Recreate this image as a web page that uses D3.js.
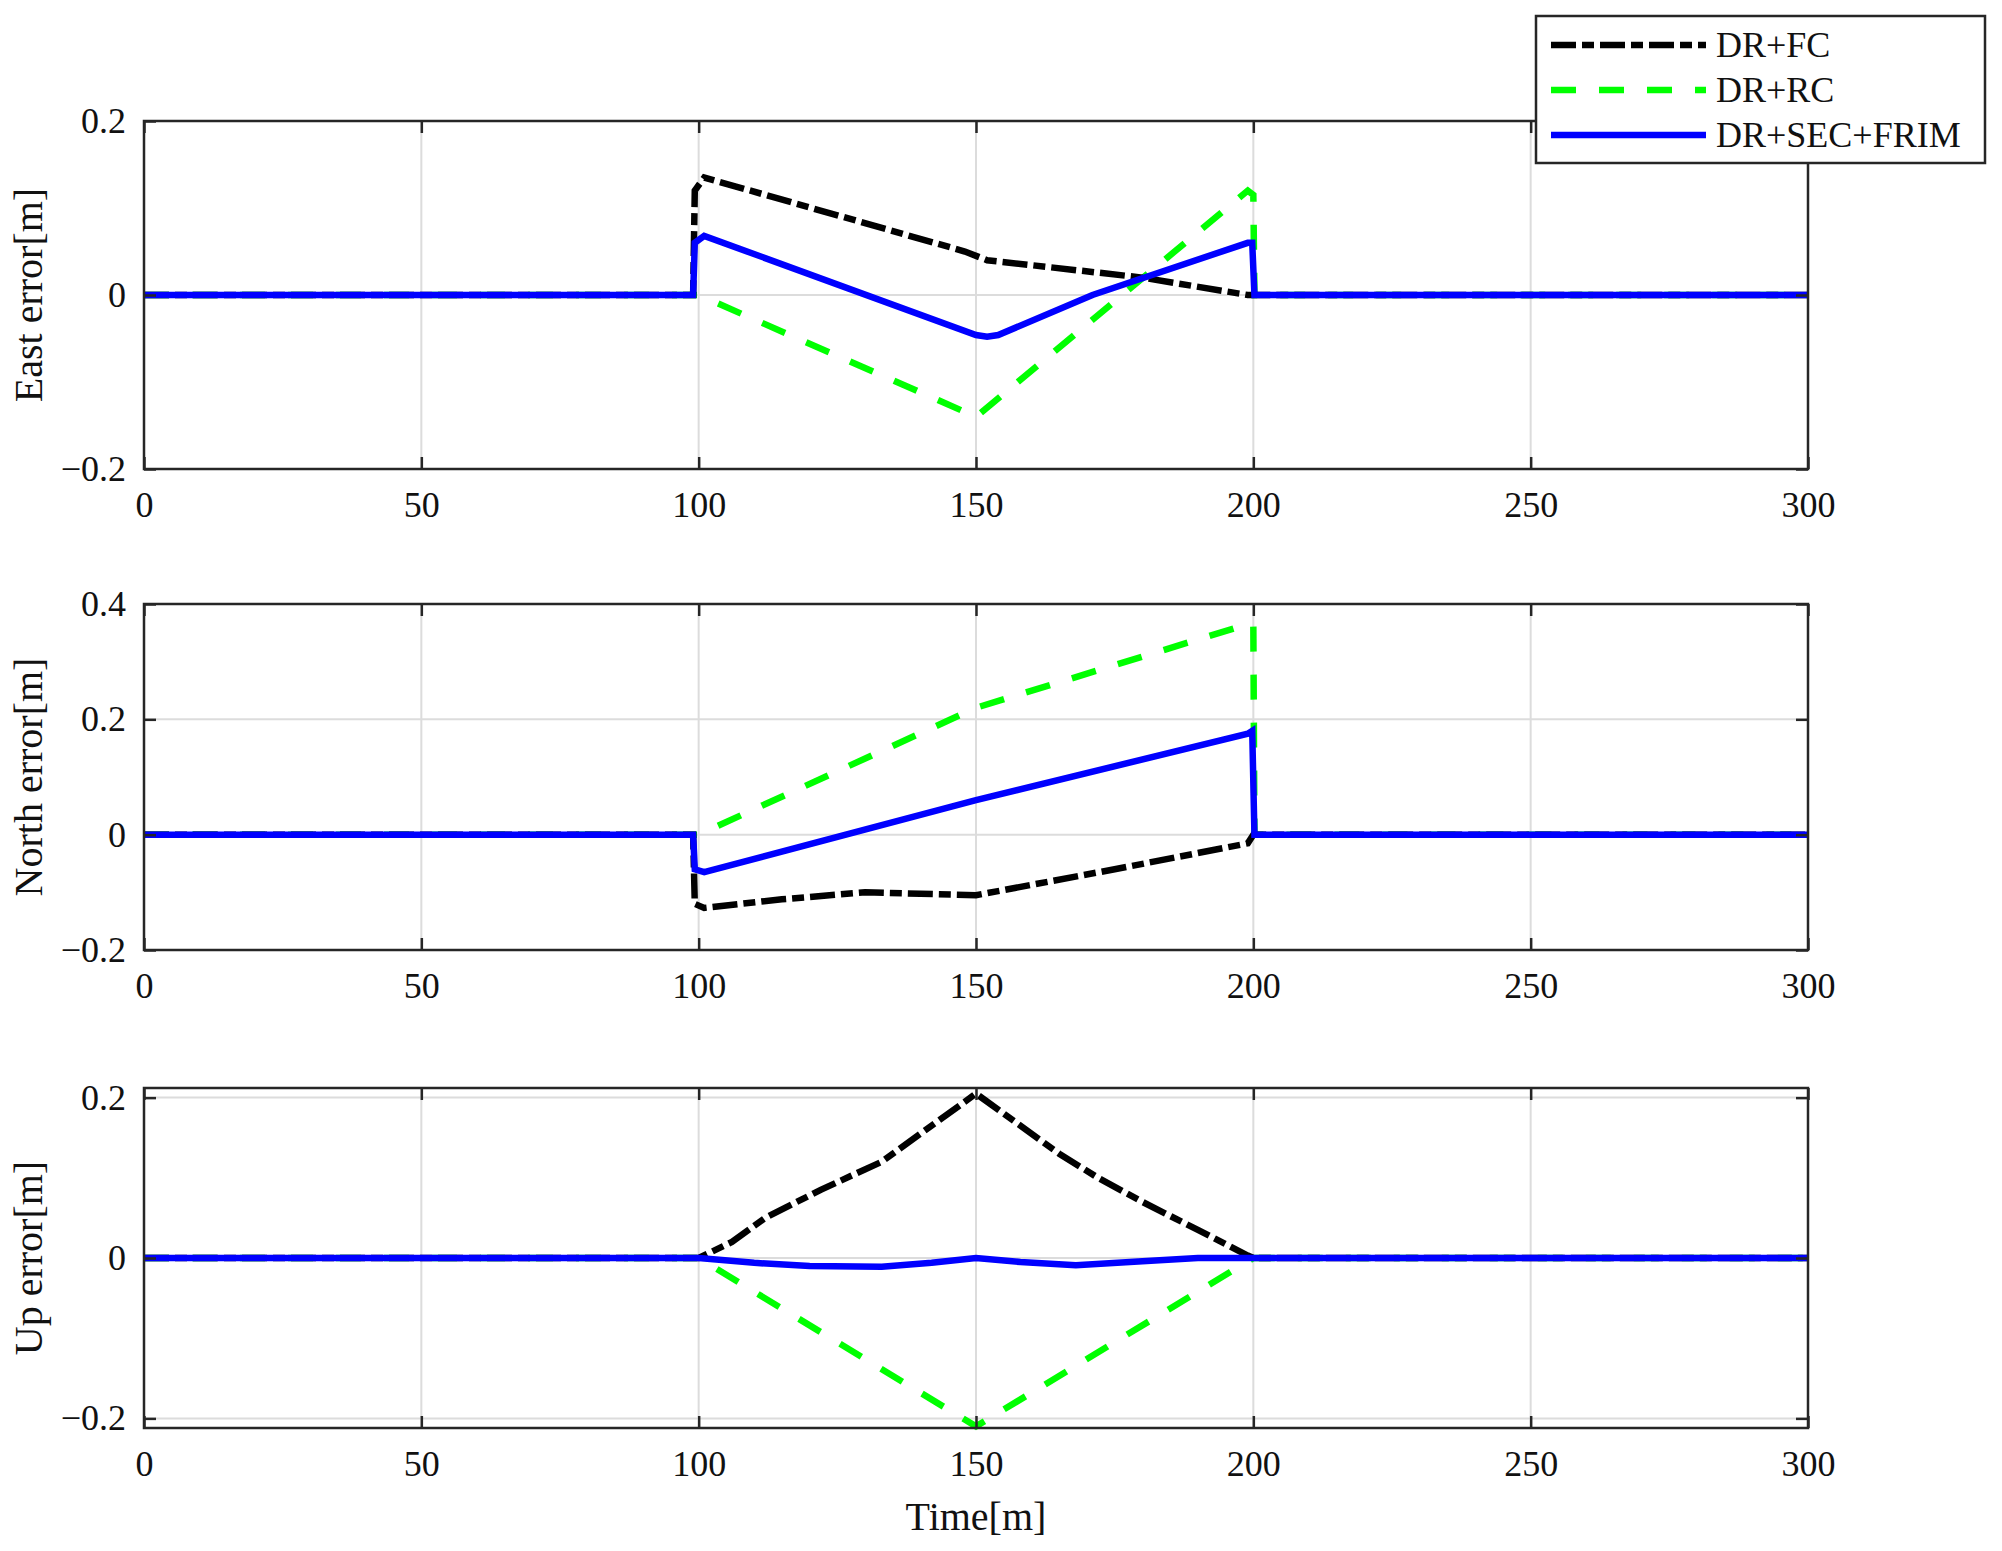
<!DOCTYPE html><html><head><meta charset="utf-8">
<script src="https://cdn.jsdelivr.net/npm/d3@7"></script>
<style>body{margin:0;background:#fff}text{font-family:"Liberation Serif",serif;fill:#111}</style></head><body>
<svg id="c" width="2002" height="1551"></svg>
<script>
const xTicks=[0,50,100,150,200,250,300];
const seriesNames=["DR+FC","DR+RC","DR+SEC+FRIM"];
const colors=["#000000","#00ff00","#0000ff"];
const dashes=["25,6,12,6","25,23",null];
// East
const eastFC_t=[0,99,99.3,101,148,152,180,199,200,300];
const eastFC_v=[0,0,0.12,0.135,0.05,0.04,0.02,0,0,0];
const eastRC_t=[0,100,150,199,200,200.2,300];
const eastRC_v=[0,0,-0.14,0.12,0.115,0,0];
const eastSEC_t=[0,99,99.3,101,150,152,154,171,199,199.8,200.2,300];
const eastSEC_v=[0,0,0.06,0.068,-0.046,-0.048,-0.046,0,0.06,0.06,0,0];
// North
const northFC_t=[0,99,99.3,101,115,130,150,175,199,200,300];
const northFC_v=[0,0,-0.12,-0.127,-0.112,-0.1,-0.105,-0.06,-0.015,0,0];
const northRC_t=[0,100,150,199,200,200.2,300];
const northRC_v=[0,0,0.22,0.365,0.365,0,0];
const northSEC_t=[0,99,99.3,101,150,199,199.8,200.2,300];
const northSEC_v=[0,0,-0.06,-0.065,0.06,0.175,0.18,0,0];
// Up
const upFC_t=[0,100,106,112,122,133,142,150,158,165,172,180,190,199,200,300];
const upFC_v=[0,0,0.02,0.05,0.085,0.12,0.165,0.205,0.165,0.13,0.1,0.07,0.035,0.003,0,0];
const upRC_t=[0,100,150,200,300];
const upRC_v=[0,0,-0.21,0,0];
const upSEC_t=[0,100,110,120,133,142,150,158,168,180,190,300];
const upSEC_v=[0,0,-0.006,-0.01,-0.011,-0.006,0,-0.005,-0.009,-0.004,0,0];

const panels=[
 {label:"East error[m]",top:121,bot:469,dom:[-0.2,0.2],ticks:[-0.2,0,0.2],
  s:[[eastFC_t,eastFC_v],[eastRC_t,eastRC_v],[eastSEC_t,eastSEC_v]]},
 {label:"North error[m]",top:604,bot:950,dom:[-0.2,0.4],ticks:[-0.2,0,0.2,0.4],
  s:[[northFC_t,northFC_v],[northRC_t,northRC_v],[northSEC_t,northSEC_v]]},
 {label:"Up error[m]",top:1088,bot:1428,dom:[-0.212,0.212],ticks:[-0.2,0,0.2],
  s:[[upFC_t,upFC_v],[upRC_t,upRC_v],[upSEC_t,upSEC_v]]}
];
const svg=d3.select("#c");
const L=144,R=1808;
const x=d3.scaleLinear().domain([0,300]).range([L,R]);
const fmt=v=>v===0?"0":(v<0?"\u2212":"")+Math.abs(v).toFixed(1);
panels.forEach(p=>{
 const y=d3.scaleLinear().domain(p.dom).range([p.bot,p.top]);
 const g=svg.append("g");
 xTicks.forEach(t=>g.append("line").attr("x1",x(t)).attr("x2",x(t)).attr("y1",p.top).attr("y2",p.bot).attr("stroke","#dcdcdc").attr("stroke-width",2));
 p.ticks.forEach(t=>g.append("line").attr("x1",L).attr("x2",R).attr("y1",y(t)).attr("y2",y(t)).attr("stroke","#dcdcdc").attr("stroke-width",2));
 const ln=d3.line().x(d=>x(d[0])).y(d=>y(d[1]));
 [1,0,2].forEach(i=>{
  const [ts,vs]=p.s[i];
  g.append("path").attr("d",ln(ts.map((t,k)=>[t,vs[k]]))).attr("fill","none")
   .attr("stroke",colors[i]).attr("stroke-width",6.5).attr("stroke-dasharray",dashes[i]);
 });
 g.append("rect").attr("x",L).attr("y",p.top).attr("width",R-L).attr("height",p.bot-p.top).attr("fill","none").attr("stroke","#262626").attr("stroke-width",2.5);
 const ax=g.append("g").attr("transform",`translate(0,${p.bot})`).call(d3.axisBottom(x).tickValues(xTicks).tickSize(-12).tickPadding(22));
 const ax2=g.append("g").attr("transform",`translate(0,${p.top})`).call(d3.axisTop(x).tickValues(xTicks).tickSize(-12).tickFormat(""));
 const ay=g.append("g").attr("transform",`translate(${L},0)`).call(d3.axisLeft(y).tickValues(p.ticks).tickSize(-12).tickPadding(18).tickFormat(fmt));
 const ay2=g.append("g").attr("transform",`translate(${R},0)`).call(d3.axisRight(y).tickValues(p.ticks).tickSize(-12).tickFormat(""));
 [ax,ax2,ay,ay2].forEach(a=>{a.select(".domain").remove();a.selectAll("line").attr("stroke","#262626").attr("stroke-width",2.5);a.selectAll("text").style("font-size","36px").attr("fill","#111").style("font-family","Liberation Serif");});
 g.append("text").attr("transform",`translate(42,${(p.top+p.bot)/2}) rotate(-90)`).attr("text-anchor","middle").style("font-size","40px").text(p.label);
});
svg.append("text").attr("x",x(150)).attr("y",1530).attr("text-anchor","middle").style("font-size","40px").text("Time[m]");
// legend
const lg=svg.append("g");
lg.append("rect").attr("x",1536).attr("y",16).attr("width",449).attr("height",147).attr("fill","#fff").attr("stroke","#262626").attr("stroke-width",2.5);
seriesNames.forEach((n,i)=>{
 const yy=45+i*45;
 lg.append("line").attr("x1",1551).attr("x2",1706).attr("y1",yy).attr("y2",yy).attr("stroke",colors[i]).attr("stroke-width",6.5).attr("stroke-dasharray",dashes[i]);
 lg.append("text").attr("x",1716).attr("y",yy+12).style("font-size","36px").text(n);
});
</script></body></html>
